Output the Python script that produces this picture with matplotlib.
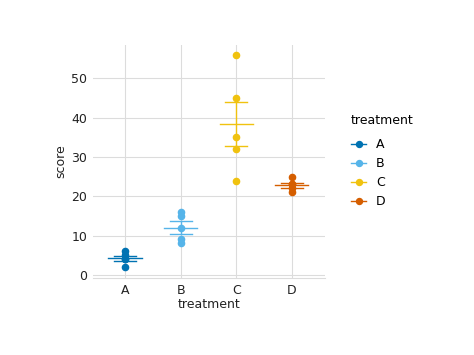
import numpy as np
import matplotlib.pyplot as plt

treatments = ["A", "B", "C", "D"]
scores = {
    "A": [6, 5, 4, 4, 2],
    "B": [16, 15, 12, 9, 8],
    "C": [56, 45, 35, 32, 24],
    "D": [25, 23, 23, 22, 21],
}
colors = ["#0072B2", "#56B4E9", "#F0C20F", "#D55E00"]

fig = plt.figure(figsize=(4.74, 3.55), dpi=100)
ax = fig.add_axes([0.196, 0.217, 0.49, 0.656])

for i, t in enumerate(treatments):
    vals = np.array(scores[t], dtype=float)
    m = vals.mean()
    se = vals.std(ddof=1) / np.sqrt(len(vals))
    c = colors[i]
    ax.plot([i, i], [m - se, m + se], color=c, lw=1, zorder=3)
    ax.plot([i - 0.3, i + 0.3], [m, m], color=c, lw=1, zorder=3)
    ax.plot([i - 0.2, i + 0.2], [m - se, m - se], color=c, lw=1, zorder=3)
    ax.plot([i - 0.2, i + 0.2], [m + se, m + se], color=c, lw=1, zorder=3)
    ax.scatter([i] * len(vals), vals, s=20, color=c, zorder=4, label=t)

ax.set_xlim(-0.58, 3.6)
ax.set_ylim(-0.8, 58.5)
ax.set_xticks(range(4))
ax.set_xticklabels(treatments)
ax.set_yticks([0, 10, 20, 30, 40, 50])
ax.grid(True, color="#dcdcdc", lw=0.8)
ax.set_axisbelow(True)
for s in ["top", "right", "left"]:
    ax.spines[s].set_visible(False)
ax.spines["bottom"].set_color("#dcdcdc")
ax.tick_params(length=0, labelsize=9, colors="#222222", pad=4)
ax.set_xlabel("treatment", fontsize=9, color="#222222", labelpad=1)
ax.set_ylabel("score", fontsize=9, color="#222222", labelpad=3)

handles = [plt.Line2D([], [], color=c, marker="o", markersize=4.3, lw=1) for c in colors]
leg = fig.legend(handles, treatments, title="treatment", loc="upper left",
                 bbox_to_anchor=(0.717, 0.71), frameon=False, fontsize=9,
                 title_fontsize=9, handlelength=1.2, labelspacing=0.48,
                 alignment="left")
leg._legend_box.sep = 8

fig.savefig("out.png", dpi=100)
